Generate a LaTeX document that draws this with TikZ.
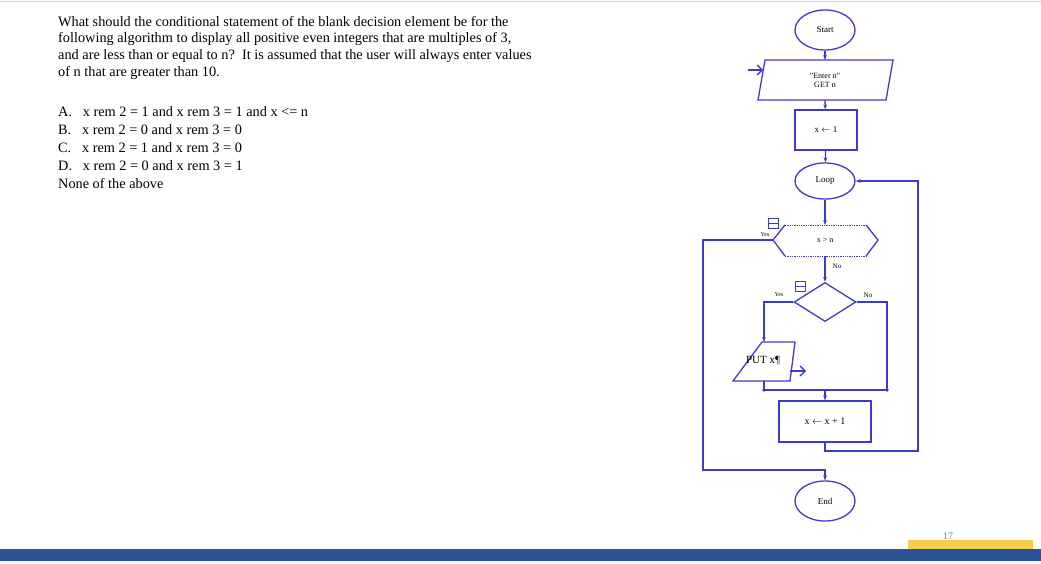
\documentclass[tikz,border=0pt]{standalone}
\usepackage{fontspec}
\setmainfont{Liberation Serif}
\usetikzlibrary{shapes.geometric,arrows.meta}
\definecolor{fc}{RGB}{60,60,200}
\definecolor{barblue}{RGB}{44,82,150}
\definecolor{baryel}{RGB}{245,205,70}
\begin{document}
\begin{tikzpicture}[x=1pt,y=-1pt,
  fl/.style={draw=fc,line width=1.3pt},
  ln/.style={fc,line width=1.3pt},
  arr/.style={ln,-{Stealth[length=5pt]}},
  ell/.style={fl,ellipse,minimum width=60pt,minimum height=40pt,font=\fontsize{9}{10}\selectfont},
  txt/.style={anchor=west,font=\fontsize{14.3}{16}\selectfont,inner sep=0pt},
  sm/.style={font=\fontsize{8}{9}\selectfont,inner sep=0pt}]
\useasboundingbox (0,0) rectangle (1041,563);
\fill[white] (0,0) rectangle (1041,563);
\draw[gray!40,line width=1pt] (0,1) -- (1041,1);
% text
\node[txt] (q1) at (58,22) {What should the conditional statement of the blank decision element be for the};
\node[txt] (q2) at (58,39) {following algorithm to display all positive even integers that are multiples of 3,};
\node[txt] (q3) at (58,56) {and are less than or equal to n?\ \ It is assumed that the user will always enter values};
\node[txt] (q4) at (58,73) {of n that are greater than 10.};
\node[txt] (a) at (58,112) {A.\ \ \ x rem 2 = 1 and x rem 3 = 1 and x <= n};
\node[txt] (b) at (58,130) {B.\ \ \ x rem 2 = 0 and x rem 3 = 0};
\node[txt] (c) at (58,148) {C.\ \ \ x rem 2 = 1 and x rem 3 = 0};
\node[txt] (d) at (58,166) {D.\ \ \ x rem 2 = 0 and x rem 3 = 1};
\node[txt] (e) at (58,184) {None of the above};
% flowchart
\node[ell] (start) at (825,30) {Start};
\draw[fl] (765,60) -- (893,60) -- (886,100) -- (758,100) -- cycle;
\coordinate (inT) at (825,60); \coordinate (inB) at (825,100); \coordinate (inL) at (763,70); \coordinate (inA) at (748,70);
\node[sm,align=center] (in) at (825,80) {"Enter n"\\GET n};
\draw[ln,-{Straight Barb[length=5pt]}] (inA) -- (inL);
\node[fl,minimum width=62pt,minimum height=40pt,font=\fontsize{9}{10}\selectfont] (x1) at (826,130) {x $\leftarrow$ 1};
\node[ell,minimum height=36pt] (loop) at (825,181) {Loop};
\draw[arr] (start) -- (inT);
\draw[arr] (inB) -- (x1);
\draw[arr] (x1) -- (loop);
% hexagon
\coordinate (hT) at (825,225); \coordinate (hB) at (825,256); \coordinate (hL) at (773,240); \coordinate (hR) at (878,240);
\draw[ln] (785,225) -- (hL) -- (785,256);
\draw[ln] (866,225) -- (hR) -- (866,256);
\draw[ln,densely dotted,line width=0.8pt] (785,225) -- (866,225) (785,256) -- (866,256);
\node[sm] (hx) at (825,240) {x > n};
\draw[fl,line width=1pt] (768,218) rectangle (778,228); \draw[ln,line width=1pt] (768,223) -- (778,223);
\draw[arr] (loop) -- (hT);
\node[sm,font=\fontsize{6}{7}\selectfont] (yes1) at (765,235) {Yes};
\node[sm,font=\fontsize{7}{8}\selectfont] (no1) at (837,266) {No};
% diamond
\node[fl,diamond,minimum width=62pt,minimum height=39pt,inner sep=0pt,aspect=1.6] (dia) at (825,302) {};
\draw[arr] (hB) -- (dia.north);
\draw[fl,line width=1pt] (795,281) rectangle (805,291); \draw[ln,line width=1pt] (795,286) -- (805,286);
\node[sm,font=\fontsize{6}{7}\selectfont] (yes2) at (779,295) {Yes};
\node[sm,font=\fontsize{7}{8}\selectfont] (no2) at (868,295) {No};
% put
\draw[fl] (762,342) -- (795,342) -- (790,381) -- (733,381) -- cycle;
\coordinate (pT) at (764,342);
\node[font=\fontsize{11}{12}\selectfont,inner sep=0pt] (put) at (763,361) {PUT x¶};
\coordinate (pA) at (790,371); \coordinate (pB) at (806,371);
\draw[ln,-{Straight Barb[length=5pt]}] (pA) -- (pB);
\draw[arr] (dia.west) -| (pT);
\coordinate (j1) at (764,390); \coordinate (j2) at (887,390); \coordinate (jm) at (825,390);
\draw[ln] (764,381) -- (j1) -- (j2);
\draw[ln] (dia.east) -| (j2);
\fill[fc] (j1) circle (1.8pt) (j2) circle (1.8pt);
\node[fl,minimum width=92pt,minimum height=41pt,font=\fontsize{10}{11}\selectfont] (inc) at (825,421.5) {x $\leftarrow$ x + 1};
\draw[arr] (jm) -- (inc);
\draw[arr] (inc.south) -- (825,451) -- (918,451) -- (918,181) -- (loop.east);
\node[ell] (end) at (825,501) {End};
\draw[arr] (hL) -- (703,240) -- (703,470) -- (825,470) -- (end.north);
% footer
\fill[baryel] (908,540) rectangle (1033,549);
\fill[barblue] (0,549) rectangle (1041,561);
\node[font=\fontsize{10}{11}\selectfont,text=gray,inner sep=0pt] (pg) at (948,536) {17};
\end{tikzpicture}
\end{document}
